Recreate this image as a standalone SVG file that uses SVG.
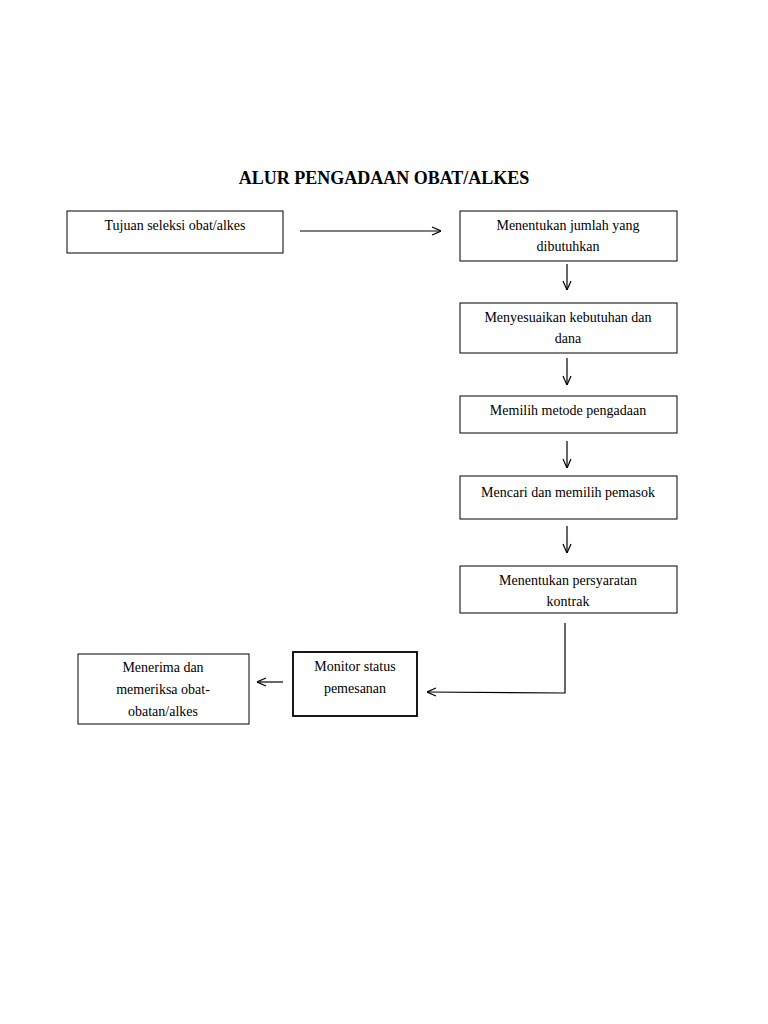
<svg xmlns="http://www.w3.org/2000/svg" width="768" height="1024" viewBox="0 0 768 1024">
<style>
.box{fill:#fff;stroke:#000;stroke-width:1}
.thick{stroke-width:1.8}
.t{font-family:"Liberation Serif",serif;font-size:14px;fill:#000;text-anchor:middle}
.title{font-family:"Liberation Serif",serif;font-size:18px;font-weight:bold;fill:#000;text-anchor:middle}
.c{fill:none;stroke:#000;stroke-width:1.2}
</style>
<defs>
<marker id="ah" viewBox="0 0 10 10" refX="10" refY="5" markerWidth="10" markerHeight="10" markerUnits="userSpaceOnUse" orient="auto">
<polyline points="1,1 10,5 1,9" fill="none" stroke="#000" stroke-width="1.2"/>
</marker>
</defs>
<rect width="768" height="1024" fill="#fff"/>
<text class="title" x="384" y="184">ALUR PENGADAAN OBAT/ALKES</text>
<g id="n1"><rect class="box" x="67" y="211" width="216" height="42"/><text class="t" x="175" y="230">Tujuan seleksi obat/alkes</text></g>
<g id="n2"><rect class="box" x="460" y="211" width="217" height="50"/><text class="t" x="568" y="230">Menentukan jumlah yang</text><text class="t" x="568" y="251">dibutuhkan</text></g>
<g id="n3"><rect class="box" x="460" y="303" width="217" height="50"/><text class="t" x="568" y="322">Menyesuaikan kebutuhan dan</text><text class="t" x="568" y="343">dana</text></g>
<g id="n4"><rect class="box" x="460" y="396" width="217" height="37"/><text class="t" x="568" y="415">Memilih metode pengadaan</text></g>
<g id="n5"><rect class="box" x="460" y="476" width="217" height="43"/><text class="t" x="568" y="497">Mencari dan memilih pemasok</text></g>
<g id="n6"><rect class="box" x="460" y="566" width="217" height="47"/><text class="t" x="568" y="585">Menentukan persyaratan</text><text class="t" x="568" y="606">kontrak</text></g>
<g id="n7"><rect class="box thick" x="293" y="652" width="124" height="64"/><text class="t" x="355" y="671">Monitor status</text><text class="t" x="355" y="693">pemesanan</text></g>
<g id="n8"><rect class="box" x="78" y="654" width="171" height="70"/><text class="t" x="163" y="672">Menerima dan</text><text class="t" x="163" y="694">memeriksa obat-</text><text class="t" x="163" y="716">obatan/alkes</text></g>
<g id="connectors">
<line class="c" x1="300" y1="231" x2="441" y2="231" marker-end="url(#ah)"/>
<line class="c" x1="567" y1="264" x2="567" y2="290" marker-end="url(#ah)"/>
<line class="c" x1="567" y1="358" x2="567" y2="385" marker-end="url(#ah)"/>
<line class="c" x1="567" y1="441" x2="567" y2="468" marker-end="url(#ah)"/>
<line class="c" x1="567" y1="526" x2="567" y2="553" marker-end="url(#ah)"/>
<polyline class="c" points="565,623 565,693 427,692" marker-end="url(#ah)"/>
<line class="c" x1="283" y1="682" x2="257" y2="682" marker-end="url(#ah)"/>
</g>
</svg>
